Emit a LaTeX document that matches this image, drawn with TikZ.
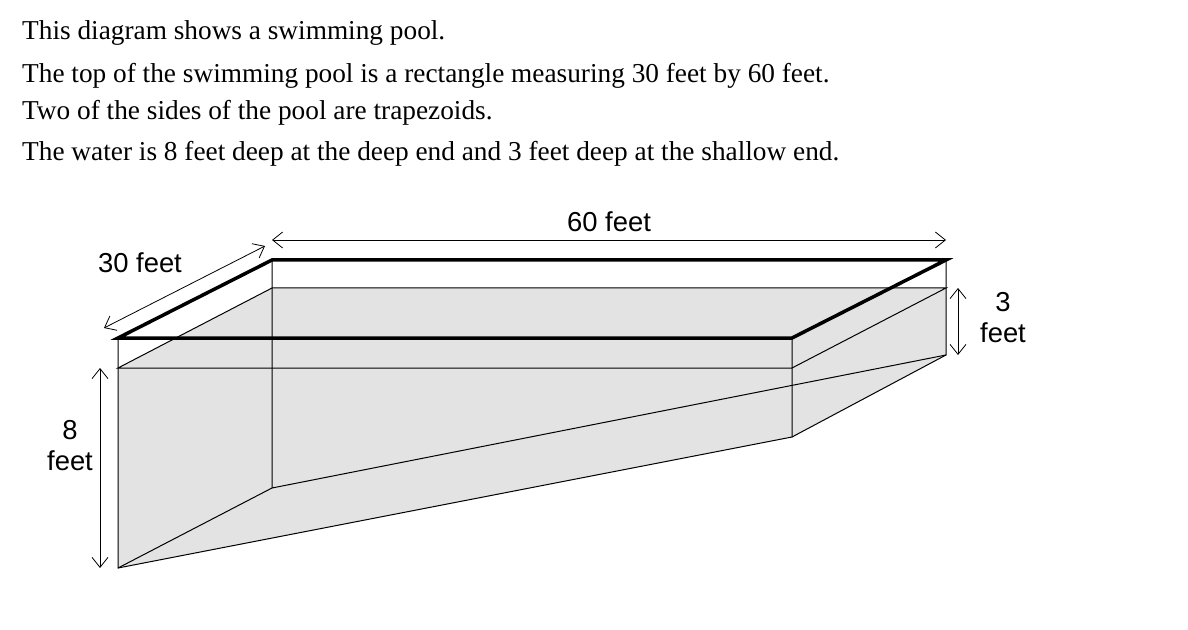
\documentclass[tikz,border=0pt]{standalone}
\usepackage{fontspec}
\usetikzlibrary{arrows.meta}
\setmainfont{Liberation Serif}
\newfontfamily\arial{Liberation Sans}
\begin{document}
\begin{tikzpicture}[x=1bp,y=-1bp,
  txt/.style={anchor=base west,inner sep=0pt,font=\fontsize{27.4}{30}\selectfont},
  lab/.style={inner sep=0pt,align=center,font=\arial\fontsize{27.5}{31}\selectfont},
  dim/.style={draw,line width=0.8bp,{Straight Barb[length=10bp,width=16bp]}-{Straight Barb[length=10bp,width=16bp]}},
  edge/.style={draw,line width=1bp},
  rim/.style={draw,line width=3.5bp}]
\useasboundingbox (0,0) rectangle (1188,630);
\node[txt] (t1) at (22,40) {This diagram shows a swimming pool.};
\node[txt] (t2) at (22,83) {The top of the swimming pool is a rectangle measuring 30 feet by 60 feet.};
\node[txt] (t3) at (22,120) {Two of the sides of the pool are trapezoids.};
\node[txt] (t4) at (22,161) {The water is 8 feet deep at the deep end and 3 feet deep at the shallow end.};
% corners
\coordinate (TFL) at (118,338); \coordinate (TBL) at (272,260);
\coordinate (TBR) at (946,260); \coordinate (TFR) at (792,338);
\coordinate (WFL) at (118,368); \coordinate (WBL) at (272,288);
\coordinate (WBR) at (946,288); \coordinate (WFR) at (792,368);
\coordinate (BFL) at (118,568); \coordinate (BBL) at (272,488);
\coordinate (BBR) at (946,355); \coordinate (BFR) at (792,437);
\fill[gray!22] (WFL) -- (WBL) -- (WBR) -- (BBR) -- (BFR) -- (BFL) -- cycle;
\draw[edge] (TFL) -- (BFL) -- (BFR) -- (TFR);
\draw[edge] (TBL) -- (BBL) -- (BBR) -- (TBR);
\draw[edge] (BFL) -- (BBL); \draw[edge] (BFR) -- (BBR);
\draw[edge] (WFL) -- (WBL) -- (WBR) -- (WFR) -- cycle;
\draw[rim] (TFL) -- (TBL) -- (TBR) -- (TFR) -- cycle;
% dimensions
\coordinate (a1) at (272,240); \coordinate (a2) at (946,240);
\draw[dim] (a1) -- (a2);
\node[lab] (l60) at (609,222) {60 feet};
\coordinate (b1) at (104,328); \coordinate (b2) at (265,246);
\draw[dim] (b1) -- (b2);
\node[lab] (l30) at (140,263) {30 feet};
\coordinate (c1) at (958,288); \coordinate (c2) at (958,355);
\draw[dim] (c1) -- (c2);
\node[lab] (l3) at (1003,318) {3\\feet};
\coordinate (d1) at (100,368); \coordinate (d2) at (100,568);
\draw[dim] (d1) -- (d2);
\node[lab] (l8) at (70,446) {8\\feet};
\end{tikzpicture}
\end{document}
